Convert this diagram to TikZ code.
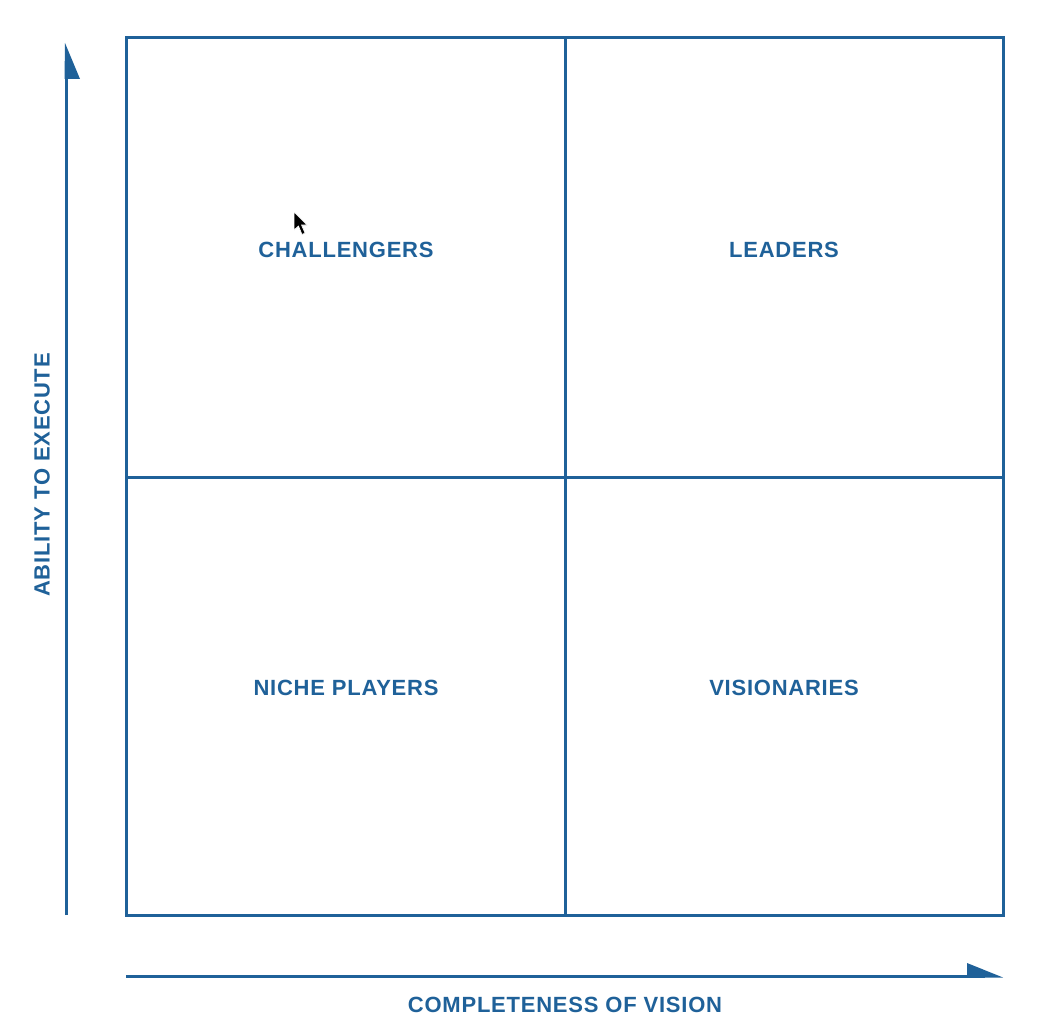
\documentclass[tikz,border=0pt]{standalone}
\usepackage{fontspec}
\setmainfont{Liberation Sans}
\definecolor{qblue}{RGB}{31,97,153}
\begin{document}
\begin{tikzpicture}[x=1pt,y=-1pt,
  lbl/.style={text=qblue,font=\fontsize{22}{24}\selectfont\bfseries\addfontfeature{LetterSpace=3.5},inner sep=0pt,anchor=center},
  grid/.style={draw=qblue,line width=3pt},
  axis/.style={draw=qblue,line width=3pt},
  headfill/.style={fill=qblue}]
\useasboundingbox[fill=white] (0,0) rectangle (1055,1025);
% quadrant grid
\draw[grid] (126,38) rectangle (1003,915);
\draw[grid] (565,38) -- (565,915);
\draw[grid] (126,477) -- (1003,477);
% axes
\coordinate (vb) at (66,915);
\coordinate (vt) at (66,60);
\draw[axis] (vb) -- (vt);
\fill[headfill] (65,43) -- (80,79) -- (64.5,79) -- cycle;
\coordinate (hl) at (126,976);
\coordinate (hr) at (985,976);
\draw[axis] (hl) -- (hr);
\fill[headfill] (967,963) -- (1003,977.5) -- (967,977.5) -- cycle;
% labels
\node[lbl] (ch) at (346,250) {CHALLENGERS};
\node[lbl] (le) at (784,250) {LEADERS};
\node[lbl] (ni) at (346,688) {NICHE PLAYERS};
\node[lbl] (vi) at (784,688) {VISIONARIES};
\node[lbl,rotate=90] (ya) at (42,475) {ABILITY TO EXECUTE};
\node[lbl] (xa) at (565,1005) {COMPLETENESS OF VISION};
% mouse pointer
\filldraw[fill=black,draw=white,line width=0.6pt] (294,212) -- (294,230) -- (298.5,226) -- (302,234.5) -- (305,233) -- (301.5,225) -- (307,225) -- cycle;
\end{tikzpicture}
\end{document}
